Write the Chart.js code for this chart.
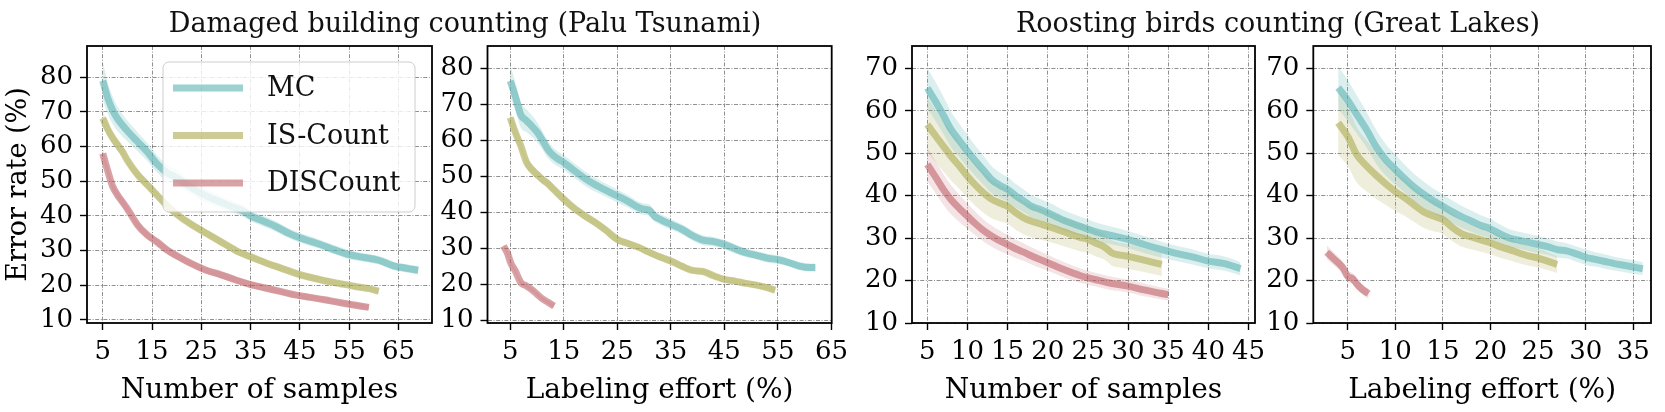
<!DOCTYPE html>
<html>
<head>
<meta charset="utf-8">
<script src="https://cdn.jsdelivr.net/npm/chart.js@4.4.1/dist/chart.umd.min.js"></script>
<style>
html,body{margin:0;padding:0;background:#fff;width:1665px;height:412px;overflow:hidden}
#wrap{position:relative;width:1665px;height:412px}
canvas{position:absolute;left:0;top:0}
</style>
</head>
<body>
<div id="wrap">
<canvas id="c1" width="1665" height="412"></canvas>
<canvas id="c2" width="1665" height="412"></canvas>
<canvas id="c3" width="1665" height="412"></canvas>
<canvas id="c4" width="1665" height="412"></canvas>
</div>
<script>
// ---------- DATA ----------
const seriesNames = ['MC', 'IS-Count', 'DISCount'];

// Panel 1: Damaged building counting, x = number of samples
const p1_mc_x = [5,6,7,8,10,12,14,16,18,20,22,25,28,31,34,35,37,40,43,46,49,52,55,58,61,64,67,69];
const p1_mc_y = [79,74,70.5,68,64.5,61.5,58.5,55,52.5,51,49,46.5,44.5,42.8,41,40,38.8,37,34.8,33.2,31.8,30.2,28.8,28,27.2,25.6,24.8,24.3];
const p1_mc_ci = [5.5,4.5,4,3.5,3,2.8,2.6,2.5,2.3,2.2,2,2,1.8,1.7,1.6,1.5,1.5,1.5,1.4,1.4,1.3,1.3,1.3,1.2,1.2,1.2,1.2,1.2];
const p1_is_x = [5,6,7,8,9,10,12,14,16,18,20,23,26,29,32,35,38,41,44,47,50,53,56,59,61];
const p1_is_y = [68.2,65,62.5,60.5,58.5,56,52,49,46,43,40.5,37.5,35,32.5,30,28.2,26.5,25,23.5,22.3,21.3,20.5,19.7,19,18.3];
const p1_is_ci = [2,1.8,1.6,1.5,1.4,1.3,1.2,1.2,1.1,1.1,1,1,1,1,1,0.9,0.9,0.9,0.9,0.9,0.9,0.8,0.8,0.8,0.8];
const p1_dis_x = [5,6,7,8,9,10,12,14,16,18,20,23,26,29,32,35,38,41,44,47,50,53,56,59];
const p1_dis_y = [58,53,48.5,46,44,42,37.5,34.5,32.5,30.2,28.5,26.2,24.3,23,21.5,20.2,19.2,18.2,17.2,16.5,15.8,15,14.3,13.6];
const p1_dis_ci = [1.5,1.4,1.3,1.2,1.2,1.1,1.1,1,1,1,1,0.9,0.9,0.9,0.9,0.9,0.9,0.8,0.8,0.8,0.8,0.8,0.8,0.8];

// Panel 2: Damaged building counting, x = labeling effort (%)
const p2_mc_x = [5,6,7,8,9,10,11,12,13,14,15,17,19,21,23,25,27,29,30,31,32,33,35,37,39,41,43,45,47,49,51,53,55,57,59,61,62];
const p2_mc_y = [76.5,72,67,65.5,64,62.3,60,57.5,55.8,54.7,53.8,51.5,49.3,47.5,46,44.5,43,41.3,40.8,40.5,38.8,38,36.6,35.3,33.5,32.2,31.8,31,29.8,28.7,28,27.2,26.8,26,25,24.6,24.6];
const p2_mc_ci = [4.5,4,3.5,3.2,3,2.8,2.6,2.4,2.2,2.1,2,2,2,1.9,1.8,1.8,1.7,1.6,1.6,1.6,1.5,1.5,1.5,1.4,1.4,1.4,1.3,1.3,1.3,1.2,1.2,1.2,1.2,1.1,1.1,1.1,1.1];
const p2_is_x = [5,6,7,8,9,10,11,12,13,15,17,19,21,23,25,27,29,31,33,35,37,39,41,43,45,47,49,51,53,54.5];
const p2_is_y = [66.3,62,58.4,54,51.9,50.5,49.1,48,46.5,43.6,41,38.9,37,34.8,32.4,31.3,30.2,28.8,27.5,26.4,25,23.8,23.5,22.3,21.3,20.8,20.2,19.7,19,18.3];
const p2_is_ci = [2,1.8,1.6,1.5,1.4,1.3,1.2,1.2,1.1,1.1,1,1,1,1,1,0.9,0.9,0.9,0.9,0.9,0.9,0.8,0.8,0.8,0.8,0.8,0.8,0.8,0.8,0.8];
const p2_dis_x = [3.75,4.5,5.1,6,7,8,9,10,11,12,13.2];
const p2_dis_y = [30.6,28.5,25.9,23.5,20.4,19.5,18.5,17.2,15.9,15,13.9];
const p2_dis_ci = [0.7,0.7,0.7,0.6,0.6,0.6,0.6,0.6,0.6,0.6,0.6];

// Panel 3: Roosting birds counting, x = number of samples
const p3_mc_x = [5,6,7,8,9,10,11,12,13,14,15,16,17,18,19,20,22,24,26,28,30,32,34,36,38,40,42,44];
const p3_mc_y = [65.4,62.3,59,55.5,53,50.5,48.2,46,43.8,42.5,41.5,40,38.8,37.5,36.8,36,34.2,32.8,31.5,30.6,29.7,28.5,27.4,26.4,25.6,24.6,24,22.8];
const p3_mc_ci = [4.8,4.6,4.4,4.2,4,3.8,3.6,3.4,3.2,3,2.9,2.8,2.7,2.6,2.5,2.5,2.4,2.3,2.2,2.1,2,2,1.9,1.8,1.8,1.7,1.7,1.6];
const p3_is_x = [5,6,7,8,9,10,11,12,13,14,15,16,17,18,19,20,22,24,25,26,27,28,29,30,32,34.2];
const p3_is_y = [56.8,54.2,51.7,49.2,47,44.6,42.5,40.7,39.2,38.3,37.5,36,34.8,34,33.4,32.8,31.5,30.2,29.7,28.8,28,26.5,26,25.7,24.8,23.8];
const p3_is_ci = [6.5,6.2,6,5.7,5.4,5.1,4.9,4.7,4.5,4.3,4.1,4,3.9,3.8,3.7,3.6,3.4,3.3,3.2,3.1,3,3,2.9,2.9,2.8,2.7];
const p3_dis_x = [5,6,7,8,9,10,11,12,13,14,15,16,17,18,19,20,22,24,26,28,30,32,34,35];
const p3_dis_y = [47.4,44.5,41.5,39,37,35.2,33.4,31.8,30.5,29.4,28.5,27.5,26.7,25.8,25,24.2,22.6,21.2,20.2,19.3,18.7,17.8,17,16.7];
const p3_dis_ci = [4,3.8,3.6,3.4,3.2,3,2.8,2.6,2.5,2.4,2.3,2.2,2.1,2,2,1.9,1.8,1.7,1.6,1.6,1.5,1.5,1.4,1.4];

// Panel 4: Roosting birds counting, x = labeling effort (%)
const p4_mc_x = [4,5,6,7,8,9,10,11,12,13,14,15,16,17,18,19,20,21,22,23,24,25,26,27,28,29,30,31,32,33,34,35,36];
const p4_mc_y = [65.5,62.5,59,55.5,51.5,48.5,46.2,44,42,40.3,38.8,37.5,36.2,35,34,33,32.2,31,30,29.5,29,28.5,28,27.3,27,26.3,25.5,25,24.5,24,23.6,23.2,22.8];
const p4_mc_ci = [5,4.8,4.5,4.2,4,3.7,3.5,3.3,3.1,3,2.9,2.8,2.7,2.6,2.5,2.4,2.3,2.2,2.1,2,2,2,1.9,1.9,1.8,1.8,1.8,1.7,1.7,1.6,1.6,1.6,1.5];
const p4_is_x = [4,5,6,7,8,9,10,11,12,13,14,15,16,17,18,19,20,21,22,23,24,25,26,27];
const p4_is_y = [57.2,54,49.5,47,44.8,42.8,41,39.5,37.8,36.2,35.2,34.4,32.5,31,30.3,29.6,28.9,28,27.3,26.5,25.8,25.3,24.6,23.8];
const p4_is_ci = [7.5,7,6.5,6,5.5,5,4.6,4.3,4,3.8,3.6,3.4,3.2,3,2.9,2.8,2.7,2.6,2.5,2.4,2.3,2.2,2.1,2];
const p4_dis_x = [2.8,3.5,4,4.5,5,5.5,6,6.5,7.2];
const p4_dis_y = [26.7,25.2,24.2,23,21,20.5,19.1,18,16.9];
const p4_dis_ci = [1.6,1.5,1.5,1.4,1.4,1.3,1.3,1.2,1.2];

// Tick labels
const p1_xticks = [5,15,25,35,45,55,65];
const p1_yticks = [10,20,30,40,50,60,70,80];
const p2_xticks = [5,15,25,35,45,55,65];
const p2_yticks = [10,20,30,40,50,60,70,80];
const p3_xticks = [5,10,15,20,25,30,35,40,45];
const p3_yticks = [10,20,30,40,50,60,70];
const p4_xticks = [5,10,15,20,25,30,35];
const p4_yticks = [10,20,30,40,50,60,70];

const suptitles = ['Damaged building counting (Palu Tsunami)', 'Roosting birds counting (Great Lakes)'];
const xTitles = ['Number of samples', 'Labeling effort (%)', 'Number of samples', 'Labeling effort (%)'];
const yTitle = 'Error rate (%)';

// ---------- STYLE ----------
const FONT = "'DejaVu Serif', serif";
const RGB = ['95,180,180', '175,172,85', '190,95,100'];
const LINE_A = [0.62, 0.62, 0.58];
const BAND_A = [0.22, 0.2, 0.17];
const GRID = 'rgba(90,90,90,0.75)';
const W = 1665, H = 412;

function pts(xs, ys, cis, sign) {
  return xs.map((x, i) => ({x: x, y: ys[i] + (cis ? sign * cis[i] : 0)}));
}

function seriesSets(k, xs, ys, cis) {
  const common = {pointRadius: 0, cubicInterpolationMode: 'monotone'};
  return [
    Object.assign({label: seriesNames[k] + ' upper', data: pts(xs, ys, cis, 1), borderWidth: 0, borderColor: 'rgba(0,0,0,0)',
      backgroundColor: 'rgba(' + RGB[k] + ',' + BAND_A[k] + ')', fill: '+1', order: 5}, common),
    Object.assign({label: seriesNames[k] + ' lower', data: pts(xs, ys, cis, -1), borderWidth: 0, borderColor: 'rgba(0,0,0,0)',
      fill: false, order: 5}, common),
    Object.assign({label: seriesNames[k], data: pts(xs, ys), borderWidth: 7,
      borderColor: 'rgba(' + RGB[k] + ',' + LINE_A[k] + ')', borderCapStyle: 'butt', borderJoinStyle: 'round',
      fill: false, order: 1 + k * 0.1}, common)
  ];
}

const framePlugin = {
  id: 'frame',
  afterDraw(chart) {
    const a = chart.chartArea, ctx = chart.ctx;
    ctx.save();
    ctx.strokeStyle = '#000';
    ctx.lineWidth = 1.8;
    ctx.strokeRect(a.left, a.top, a.right - a.left, a.bottom - a.top);
    ctx.restore();
  }
};

const supTitle = {
  id: 'supTitle',
  afterDraw(chart, args, opts) {
    if (!opts.text) return;
    const ctx = chart.ctx;
    ctx.save();
    ctx.font = '27px ' + FONT;
    ctx.fillStyle = '#111';
    ctx.textAlign = 'center';
    ctx.textBaseline = 'alphabetic';
    ctx.fillText(opts.text, opts.cx, opts.baseline);
    ctx.restore();
  }
};

const boxLegend = {
  id: 'boxLegend',
  afterDatasetsDraw(chart, args, opts) {
    if (!opts.show) return;
    const a = chart.chartArea, ctx = chart.ctx;
    const bx = a.left + 76, by = a.top + 16, bw = 252, bh = 150, r = 6;
    ctx.save();
    ctx.beginPath();
    ctx.moveTo(bx + r, by);
    ctx.arcTo(bx + bw, by, bx + bw, by + bh, r);
    ctx.arcTo(bx + bw, by + bh, bx, by + bh, r);
    ctx.arcTo(bx, by + bh, bx, by, r);
    ctx.arcTo(bx, by, bx + bw, by, r);
    ctx.closePath();
    ctx.fillStyle = 'rgba(255,255,255,0.8)';
    ctx.fill();
    ctx.strokeStyle = 'rgba(200,200,200,0.9)';
    ctx.lineWidth = 1;
    ctx.stroke();
    ctx.font = '27px ' + FONT;
    ctx.textBaseline = 'middle';
    ctx.textAlign = 'left';
    for (let k = 0; k < 3; k++) {
      const y = by + 26 + k * 47.5;
      ctx.beginPath();
      ctx.moveTo(bx + 10, y);
      ctx.lineTo(bx + 80, y);
      ctx.lineWidth = 7;
      ctx.lineCap = 'butt';
      ctx.strokeStyle = 'rgba(' + RGB[k] + ',' + LINE_A[k] + ')';
      ctx.stroke();
      ctx.fillStyle = '#111';
      ctx.fillText(seriesNames[k], bx + 104, y + 1);
    }
    ctx.restore();
  }
};

function makeChart(id, p) {
  const XA = H - p.B;
  const datasets = [].concat(
    seriesSets(0, p.mc[0], p.mc[1], p.mc[2]),
    seriesSets(1, p.is[0], p.is[1], p.is[2]),
    seriesSets(2, p.dis[0], p.dis[1], p.dis[2])
  );
  return new Chart(document.getElementById(id), {
    type: 'line',
    data: {datasets: datasets},
    plugins: [framePlugin, boxLegend, supTitle],
    options: {
      responsive: false,
      animation: false,
      devicePixelRatio: 1,
      layout: {padding: {left: p.L - p.ya, right: W - p.R, top: p.T, bottom: 0}},
      plugins: {
        legend: {display: false}, tooltip: {enabled: false},
        boxLegend: {show: !!p.legend},
        supTitle: p.sup || {}
      },
      scales: {
        x: {
          type: 'linear', min: p.xr[0], max: p.xr[1],
          afterBuildTicks: s => { s.ticks = p.xt.map(v => ({value: v})); },
          afterFit: s => { s.height = XA; },
          ticks: {font: {family: FONT, size: 26}, color: '#000', padding: 7, autoSkip: false, maxRotation: 0, callback: v => String(v)},
          grid: {color: GRID, lineWidth: 0.9, tickLength: 7, tickColor: '#000', tickWidth: 1.4, tickBorderDash: []},
          border: {display: false, dash: [4, 1.6, 1, 1.6]},
          title: {display: true, text: p.xtitle, font: {family: FONT, size: 28}, color: '#000', padding: {top: 0, bottom: 4}}
        },
        y: {
          type: 'linear', min: p.yr[0], max: p.yr[1],
          afterBuildTicks: s => { s.ticks = p.yt.map(v => ({value: v})); },
          afterFit: s => { s.width = p.ya; },
          ticks: {font: {family: FONT, size: 26}, color: '#000', padding: p.ypad, autoSkip: false, callback: v => String(v)},
          grid: {color: GRID, lineWidth: 0.9, tickLength: 7, tickColor: '#000', tickWidth: 1.4, tickBorderDash: []},
          border: {display: false, dash: [4, 1.6, 1, 1.6]},
          title: {display: !!p.ytitle, text: p.ytitle || '', font: {family: FONT, size: 27}, color: '#000', padding: {top: 0, bottom: 0}}
        }
      }
    }
  });
}

makeChart('c1', {L: 87, R: 432, T: 46, B: 323, ya: 84, ypad: 7, xr: [1.8, 71.8], yr: [9.1, 89],
  xt: p1_xticks, yt: p1_yticks, xtitle: xTitles[0], ytitle: yTitle, legend: true,
  sup: {text: suptitles[0], cx: 465, baseline: 32},
  mc: [p1_mc_x, p1_mc_y, p1_mc_ci], is: [p1_is_x, p1_is_y, p1_is_ci], dis: [p1_dis_x, p1_dis_y, p1_dis_ci]});
makeChart('c2', {L: 487.5, R: 831.7, T: 46, B: 323, ya: 60, ypad: 7, xr: [0.76, 65.05], yr: [9.17, 86.2],
  xt: p2_xticks, yt: p2_yticks, xtitle: xTitles[1],
  mc: [p2_mc_x, p2_mc_y, p2_mc_ci], is: [p2_is_x, p2_is_y, p2_is_ci], dis: [p2_dis_x, p2_dis_y, p2_dis_ci]});
makeChart('c3', {L: 912, R: 1255, T: 46, B: 323, ya: 60, ypad: 7, xr: [3.1, 45.8], yr: [10, 75.3],
  xt: p3_xticks, yt: p3_yticks, xtitle: xTitles[2],
  sup: {text: suptitles[1], cx: 1278, baseline: 32},
  mc: [p3_mc_x, p3_mc_y, p3_mc_ci], is: [p3_is_x, p3_is_y, p3_is_ci], dis: [p3_dis_x, p3_dis_y, p3_dis_ci]});
makeChart('c4', {L: 1313.3, R: 1651, T: 46, B: 323, ya: 60, ypad: 7, xr: [1.39, 36.86], yr: [10, 75.3],
  xt: p4_xticks, yt: p4_yticks, xtitle: xTitles[3],
  mc: [p4_mc_x, p4_mc_y, p4_mc_ci], is: [p4_is_x, p4_is_y, p4_is_ci], dis: [p4_dis_x, p4_dis_y, p4_dis_ci]});
</script>
</body>
</html>
